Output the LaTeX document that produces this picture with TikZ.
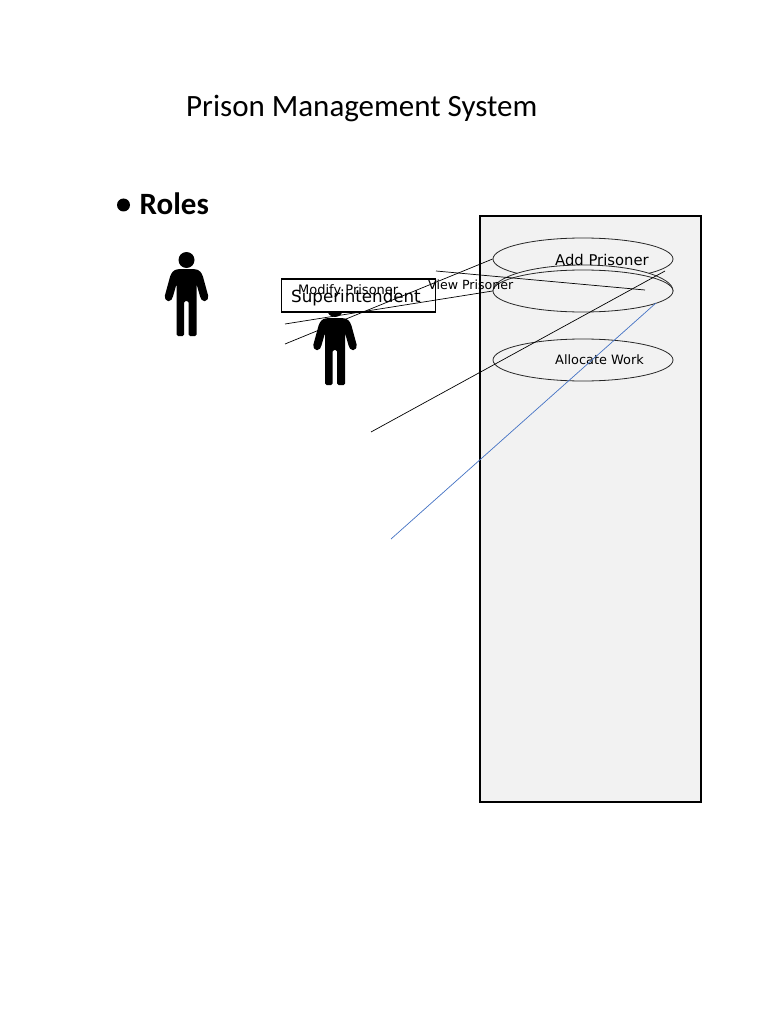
\documentclass[tikz,border=0pt]{standalone}
\usepackage{fontspec}
\setmainfont{Carlito}
\newfontfamily\usecasefont{DejaVu Sans}
\definecolor{panelgray}{HTML}{F2F2F2}
\definecolor{linkblue}{HTML}{4472C4}
\usetikzlibrary{shapes.geometric}
\tikzset{
  usecase/.style={draw=black!85,line width=0.8pt,ellipse,minimum width=180pt,minimum height=42pt,inner sep=0pt},
  caselabel/.style={anchor=west,inner sep=0pt,text=black},
  link/.style={draw=black,line width=0.7pt},
  person/.pic={
    \fill (0,0) circle (8pt);
    \fill[rounded corners=1.5pt] (-8,9) -- (-13,10.5) -- (-16,15) -- (-22,37) -- (-20,41) -- (-16,41) -- (-14,38)
      -- (-10,24) -- (-10,76) -- (-2.3,76) -- (-2.3,41) -- (2,41) -- (2,76) -- (10,76) -- (10,24)
      -- (14,38) -- (16,41) -- (20,41) -- (22,37) -- (16,15) -- (13,10.5) -- (8,9) -- cycle;
  }
}
\begin{document}
\begin{tikzpicture}[x=1pt,y=-1pt]
\useasboundingbox (0,0) rectangle (768,1024);
\fill[white] (0,0) rectangle (768,1024);
\node[anchor=west,inner sep=0pt,font=\fontsize{31}{34}\selectfont] (title) at (186,109) {Prison Management System};
\fill (123.5,205) circle (6.5pt);
\node[anchor=west,inner sep=0pt,font=\fontsize{31}{34}\selectfont\bfseries] (roles) at (139.5,204) {Roles};
\node[draw=black,fill=panelgray,line width=1.5pt,minimum width=221pt,minimum height=586pt,inner sep=0pt] (panel) at (590.5,509) {};
\pic at (186.5,260) {person};
\pic at (335,309) {person};
\node[draw=black,fill=white,line width=1.5pt,minimum width=154pt,minimum height=33pt,inner sep=0pt] (super) at (358.5,295.5) {};
\node[usecase] (add) at (583,259) {};
% second outline of the view case hides the lower part of add
\filldraw[draw=black!85,fill=panelgray,line width=0.8pt] (493,291) arc[start angle=180,end angle=360,x radius=90,y radius=26] -- cycle;
\node[usecase,fill=panelgray] (view) at (583,291) {};
\node[usecase] (work) at (583,360) {};
\node[caselabel,font=\fontsize{14.8}{16}\selectfont\usecasefont] (addlabel) at (555,260) {Add Prisoner};
\node[caselabel,font=\fontsize{12.9}{15}\selectfont\usecasefont] (worklabel) at (555,360) {Allocate Work};
\node[caselabel,font=\fontsize{12.6}{15}\selectfont\usecasefont] (viewlabel) at (428,285) {View Prisoner};
\node[caselabel,font=\fontsize{13}{15}\selectfont\usecasefont] (modifylabel) at (298,291) {Modify Prisoner};
\node[caselabel,font=\fontsize{16.7}{19}\selectfont\usecasefont] (superlabel) at (291,297.5) {Superintendent};
\coordinate (a1) at (285,344);
\coordinate (a2) at (285,324);
\coordinate (a3) at (436,271);
\coordinate (a4) at (645,290);
\coordinate (a5) at (371,432);
\coordinate (a6) at (665,271);
\coordinate (a7) at (391,539);
\coordinate (a8) at (656,303);
\draw[link] (a1) -- (add.west);
\draw[link] (a2) -- (view.west);
\draw[link] (a3) -- (a4);
\draw[link] (a5) -- (a6);
\draw[link,draw=linkblue] (a7) -- (a8);
\end{tikzpicture}
\end{document}
